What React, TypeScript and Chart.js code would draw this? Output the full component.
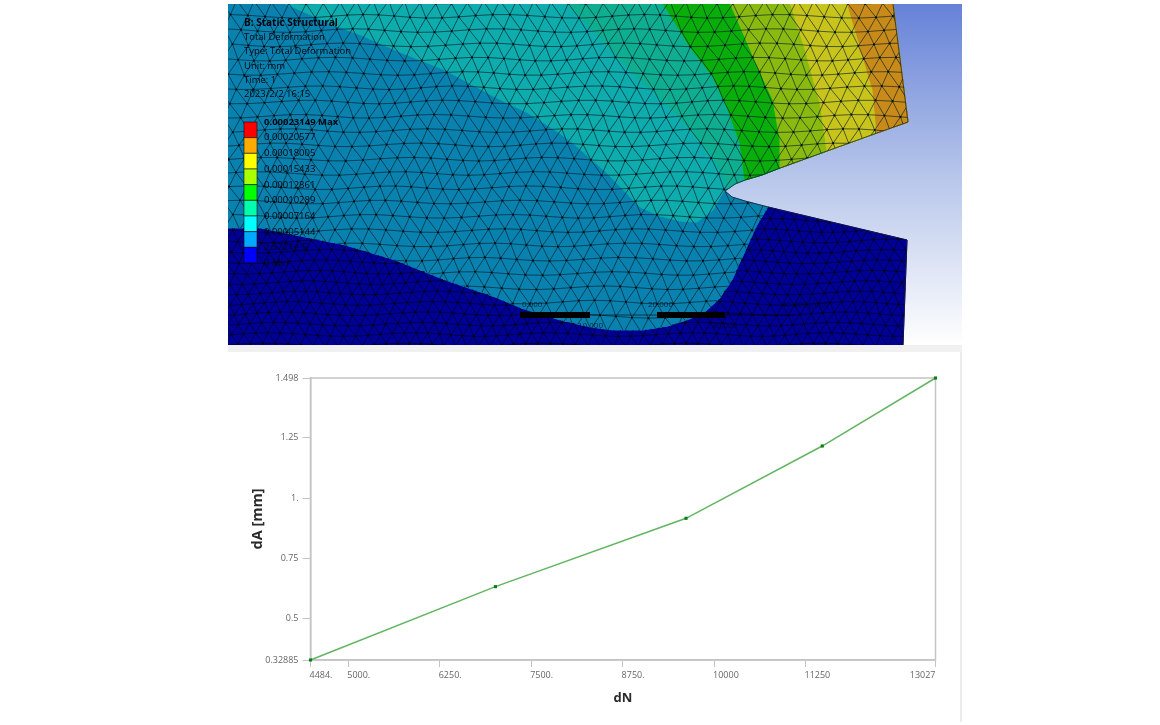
import React, { useEffect, useRef } from "react";
import Chart from "chart.js/auto";

// ---------- lower chart data ----------
const dN = [4484, 7012, 9617, 11479, 13027];
const dA = [0.32885, 0.633, 0.9163, 1.216, 1.498];
const xTickValues = [4484, 5000, 6250, 7500, 8750, 10000, 11250, 13027];
const xTickLabels = ["4484.", "5000.", "6250.", "7500.", "8750.", "10000", "11250", "13027"];
const yTickValues = [0.32885, 0.5, 0.75, 1, 1.25, 1.498];
const yTickLabels = ["0.32885", "0.5", "0.75", "1.", "1.25", "1.498"];

// ---------- contour picture data (picture coordinates) ----------
type P = [number, number];
const notchUpper: P[] = [[908, 122], [877, 133], [827, 151], [780, 168], [762, 175], [745, 180], [735, 184], [725, 191]];
const notchLower: P[] = [[732, 197], [745, 201], [768, 207]];
const darkBoundary: P[] = [[228, 228], [261, 228], [295, 235], [345, 245], [395, 260], [445, 280], [495, 297], [521, 308], [560, 320], [590, 327], [613, 330], [643, 330], [668, 326], [687, 320], [705, 312], [720, 298], [732, 280], [742, 258], [750, 240], [757, 225], [768, 207]];
const darkTail: P[] = [[907, 240], [903, 345], [228, 345]];
const blueTealBoundary: P[] = [[285, 4], [328, 23], [361, 35], [395, 50], [445, 70], [495, 97], [528, 113], [558, 132], [573, 143], [607, 173], [640, 207], [660, 216], [680, 221], [697, 222], [713, 210], [723, 192]];
const tealSpringBoundary: P[] = [[567, 4], [600, 38], [633, 73], [673, 110], [713, 157], [727, 187]];
const springGreenBoundary: P[] = [[663, 4], [687, 43], [713, 77], [727, 107], [740, 143], [745, 180]];
const greenLimeBoundary: P[] = [[730, 4], [753, 57], [773, 100], [780, 140], [780, 168]];
const limeYellowBoundary: P[] = [[790, 4], [807, 57], [820, 103], [827, 151]];
const yellowOrangeBoundary: P[] = [[847, 4], [860, 47], [873, 90], [877, 133]];
const topRight: P[] = [[893, 4]];
const bandColors = ["#000096", "#0a82b0", "#0eacac", "#10ae90", "#0aae0a", "#8aba10", "#c8c41c", "#c88a18"];

const legendColors = ["#ff0000", "#ffaa00", "#ffff00", "#aaff00", "#00ff00", "#00ffaa", "#00ffff", "#00aaff", "#0000ff"];
const legendLabels = ["0.00023149 Max", "0.00020577", "0.00018005", "0.00015433", "0.00012861", "0.00010289", "0.00007164", "0.00005144", "2.5721e-5", "0 Min"];
const headerLines = ["B: Static Structural", "Total Deformation", "Type: Total Deformation", "Unit: mm", "Time: 1", "2023/2/2 16:15"];
const scaleBarLabels: [string, number, number][] = [["0.000", 522, 305], ["20.000", 648, 305], ["40.000 (mm)", 782, 305], ["10.000", 578, 326], ["30.000", 712, 326]];

const bandFrom = (b: P[]): P[] => [
  b[0],
  ...topRight,
  ...notchUpper.filter((p) => p[0] > b[b.length - 1][0]),
  ...b.slice(1).reverse(),
];
const darkRegion: P[] = [...darkBoundary, ...darkTail];
const blueRegion: P[] = [[228, 4], ...topRight, ...notchUpper, ...notchLower, ...darkBoundary.slice().reverse()];
const outerEdge: P[] = [...topRight, ...notchUpper, ...notchLower, darkTail[0], darkTail[1]];
const regions: P[][] = [
  darkRegion,
  blueRegion,
  bandFrom(blueTealBoundary),
  bandFrom(tealSpringBoundary),
  bandFrom(springGreenBoundary),
  bandFrom(greenLimeBoundary),
  bandFrom(limeYellowBoundary),
  bandFrom(yellowOrangeBoundary),
];

const FONT = '"Open Sans", sans-serif';

function latticePath(sx: any, sy: any, s: number, seed: number) {
  const rows = Math.ceil(345 / (s * 0.866)) + 2;
  const cols = Math.ceil(700 / s) + 3;
  const pt = (i: number, j: number): P => {
    const bx = 222 + i * s + (j % 2) * (s / 2);
    const by = 2 + j * s * 0.866;
    return [
      sx.getPixelForValue(bx + 2.6 * Math.sin(by * 0.07 + bx * 0.021 + seed)),
      sy.getPixelForValue(by + 1.8 * Math.sin(bx * 0.045 + by * 0.03 + seed)),
    ];
  };
  const path = new Path2D();
  const dots = new Path2D();
  for (let j = 0; j < rows; j++) {
    for (let i = 0; i < cols; i++) {
      const a = pt(i, j);
      const r = pt(i + 1, j);
      const d1 = pt(i + (j % 2), j + 1);
      const d2 = pt(i - 1 + (j % 2), j + 1);
      for (const e of [r, d1, d2]) {
        path.moveTo(a[0], a[1]);
        path.lineTo(e[0], e[1]);
      }
      dots.moveTo(a[0] + 1.1, a[1]);
      dots.arc(a[0], a[1], 1.1, 0, Math.PI * 2);
    }
  }
  return { path, dots };
}

const meshPlugin = {
  id: "mesh",
  beforeDraw(chart: any) {
    const { ctx, chartArea: a } = chart;
    const g = ctx.createLinearGradient(0, a.top, 0, a.bottom);
    g.addColorStop(0, "#6682d8");
    g.addColorStop(0.5, "#b6c5ea");
    g.addColorStop(1, "#ffffff");
    ctx.save();
    ctx.fillStyle = g;
    ctx.fillRect(a.left, a.top, a.width, a.height);
    ctx.restore();
  },
  afterDatasetsDraw(chart: any) {
    const { ctx } = chart;
    const sx = chart.scales.x;
    const sy = chart.scales.y;
    const toPath = (pts: P[], close = true) => {
      const p = new Path2D();
      pts.forEach((q, i) => {
        const x = sx.getPixelForValue(q[0]);
        const y = sy.getPixelForValue(q[1]);
        if (i) p.lineTo(x, y);
        else p.moveTo(x, y);
      });
      if (close) p.closePath();
      return p;
    };
    ctx.save();
    ctx.save();
    ctx.clip(toPath(darkRegion));
    const dense = latticePath(sx, sy, 12, 1.3);
    ctx.strokeStyle = "rgba(0,0,40,0.8)";
    ctx.lineWidth = 0.9;
    ctx.stroke(dense.path);
    ctx.fillStyle = "rgba(0,0,30,0.9)";
    ctx.fill(dense.dots);
    ctx.restore();

    ctx.save();
    ctx.clip(toPath(blueRegion));
    const main = latticePath(sx, sy, 16.5, 0.4);
    ctx.strokeStyle = "rgba(5,30,40,0.72)";
    ctx.lineWidth = 0.9;
    ctx.stroke(main.path);
    ctx.fillStyle = "rgba(0,15,20,0.95)";
    ctx.fill(main.dots);
    ctx.restore();

    // outline along the notch and right edge
    ctx.strokeStyle = "rgba(30,30,40,0.75)";
    ctx.lineWidth = 1;
    ctx.stroke(toPath(outerEdge, false));

    // legend colour bar
    const bx0 = sx.getPixelForValue(244);
    const bx1 = sx.getPixelForValue(257);
    const by0 = sy.getPixelForValue(122);
    const by1 = sy.getPixelForValue(263);
    const h = (by1 - by0) / legendColors.length;
    legendColors.forEach((c, i) => {
      ctx.fillStyle = c;
      ctx.fillRect(bx0, by0 + i * h, bx1 - bx0, h);
      ctx.strokeStyle = "rgba(0,0,0,0.55)";
      ctx.strokeRect(bx0, by0 + i * h, bx1 - bx0, h);
    });

    ctx.textBaseline = "middle";
    ctx.fillStyle = "#05050f";
    legendLabels.forEach((t, i) => {
      ctx.font = `${i === 0 ? "bold " : ""}9.5px ${FONT}`;
      ctx.fillText(t, sx.getPixelForValue(264), sy.getPixelForValue(122 + i * 15.7));
    });
    headerLines.forEach((t, i) => {
      ctx.font = `${i === 0 ? "bold 10px" : "9.5px"} ${FONT}`;
      ctx.fillText(t, sx.getPixelForValue(244), sy.getPixelForValue(23 + i * 14.3));
    });

    // scale bar
    ctx.strokeStyle = "rgba(0,0,0,0.7)";
    ctx.lineWidth = 0.8;
    ctx.beginPath();
    ctx.moveTo(sx.getPixelForValue(520), sy.getPixelForValue(315));
    ctx.lineTo(sx.getPixelForValue(795), sy.getPixelForValue(315));
    ctx.stroke();
    ctx.fillStyle = "#000";
    for (const [a, b] of [[520, 590], [657, 725]]) {
      ctx.fillRect(sx.getPixelForValue(a), sy.getPixelForValue(312), sx.getPixelForValue(b) - sx.getPixelForValue(a), 6);
    }
    ctx.fillStyle = "rgba(0,0,20,0.7)";
    ctx.font = `8px ${FONT}`;
    scaleBarLabels.forEach(([t, x, y]) => ctx.fillText(t, sx.getPixelForValue(x), sy.getPixelForValue(y)));
    ctx.restore();
  },
};

const framePlugin = {
  id: "frame",
  beforeDraw(chart: any) {
    const items = chart.scales.x.getLabelItems();
    const last = items[items.length - 1];
    if (last) last.options.textAlign = "right";
    items.forEach((it: any, i: number) => {
      if (i < items.length - 1) it.options.translation[0] -= 1;
    });
  },
  beforeDatasetsDraw(chart: any) {
    const { ctx, chartArea: a } = chart;
    ctx.save();
    ctx.strokeStyle = "#c4c4c4";
    ctx.lineWidth = 1.5;
    ctx.strokeRect(a.left, a.top, a.width, a.height);
    ctx.restore();
  },
};

export default function App() {
  const topRef = useRef<HTMLCanvasElement>(null);
  const botRef = useRef<HTMLCanvasElement>(null);

  useEffect(() => {
    const top = new Chart(topRef.current!, {
      type: "scatter",
      data: {
        datasets: regions.map((r, i) => ({
          data: r.map(([x, y]) => ({ x, y })),
          showLine: true,
          fill: "shape",
          tension: 0,
          pointRadius: 0,
          borderWidth: 1,
          borderColor: bandColors[i],
          backgroundColor: bandColors[i],
          order: regions.length - i,
        })),
      },
      options: {
        animation: false,
        responsive: false,
        devicePixelRatio: 1,
        layout: { padding: 0 },
        events: [],
        plugins: { legend: { display: false }, tooltip: { enabled: false }, filler: { drawTime: "beforeDatasetDraw" } },
        scales: {
          x: { type: "linear", display: false, min: 228, max: 962 },
          y: { type: "linear", display: false, min: 4, max: 345, reverse: true },
        },
      } as any,
      plugins: [meshPlugin],
    });

    const bottom = new Chart(botRef.current!, {
      type: "scatter",
      data: {
        datasets: [
          {
            data: dN.map((x, i) => ({ x, y: dA[i] })),
            showLine: true,
            tension: 0,
            borderColor: "#62b562",
            borderWidth: 1.5,
            pointRadius: 2.2,
            pointStyle: "rect",
            pointBackgroundColor: "#0b7d16",
            pointBorderWidth: 0,
            clip: false,
          },
        ],
      },
      options: {
        animation: false,
        responsive: false,
        devicePixelRatio: 1,
        events: [],
        layout: { padding: { top: 26, right: 24.5, left: 0, bottom: 0 } },
        plugins: { legend: { display: false }, tooltip: { enabled: false } },
        scales: {
          x: {
            type: "linear",
            min: 4484,
            max: 13027,
            afterBuildTicks: (s: any) => {
              s.ticks = xTickValues.map((value) => ({ value }));
            },
            afterFit: (s: any) => {
              s.height = 62;
              s.paddingLeft = 0;
              s.paddingRight = 0;
            },
            ticks: {
              autoSkip: false,
              maxRotation: 0,
              align: "start",
              padding: 3,
              color: "#666666",
              font: { family: FONT, size: 9 },
              callback: (v: number) => xTickLabels[xTickValues.indexOf(v)],
            },
            grid: { drawOnChartArea: false, color: "#c4c4c4", tickLength: 7, tickWidth: 1 },
            border: { color: "#c4c4c4", width: 1.5 },
            title: {
              display: true,
              text: "dN",
              color: "#2a2a2a",
              font: { family: FONT, size: 13, weight: "bold" },
              padding: { top: 0, bottom: 16 },
            },
          },
          y: {
            type: "linear",
            min: 0.32885,
            max: 1.498,
            afterBuildTicks: (s: any) => {
              s.ticks = yTickValues.map((value) => ({ value }));
            },
            afterFit: (s: any) => {
              s.width = 82.5;
              s.paddingTop = 0;
              s.paddingBottom = 0;
            },
            ticks: {
              autoSkip: false,
              padding: 4,
              color: "#666666",
              font: { family: FONT, size: 9 },
              callback: (v: number) => yTickLabels[yTickValues.indexOf(v)],
            },
            grid: { drawOnChartArea: false, color: "#c4c4c4", tickLength: 8, tickWidth: 1 },
            border: { color: "#c4c4c4", width: 1.5 },
            title: {
              display: true,
              text: "dA [mm]",
              color: "#2a2a2a",
              font: { family: FONT, size: 14.5, weight: "bold" },
              padding: { top: 21, bottom: 0 },
            },
          },
        },
      } as any,
      plugins: [framePlugin],
    });

    return () => {
      top.destroy();
      bottom.destroy();
    };
  }, []);

  const blur = "blur(0.7px)";
  return (
    <div style={{ position: "fixed", left: 0, top: 0, width: 1160, height: 725, background: "#fff", overflow: "hidden" }}>
      <canvas ref={topRef} width={734} height={341} style={{ position: "absolute", left: 228, top: 4, width: 734, height: 341, filter: blur }} />
      <div style={{ position: "absolute", left: 228, top: 345, width: 734, height: 7, background: "#f0f0f0" }} />
      <canvas ref={botRef} width={732} height={370} style={{ position: "absolute", left: 228, top: 352, width: 732, height: 370, filter: blur }} />
      <div style={{ position: "absolute", left: 960, top: 352, width: 2, height: 370, background: "#ececec" }} />
    </div>
  );
}
